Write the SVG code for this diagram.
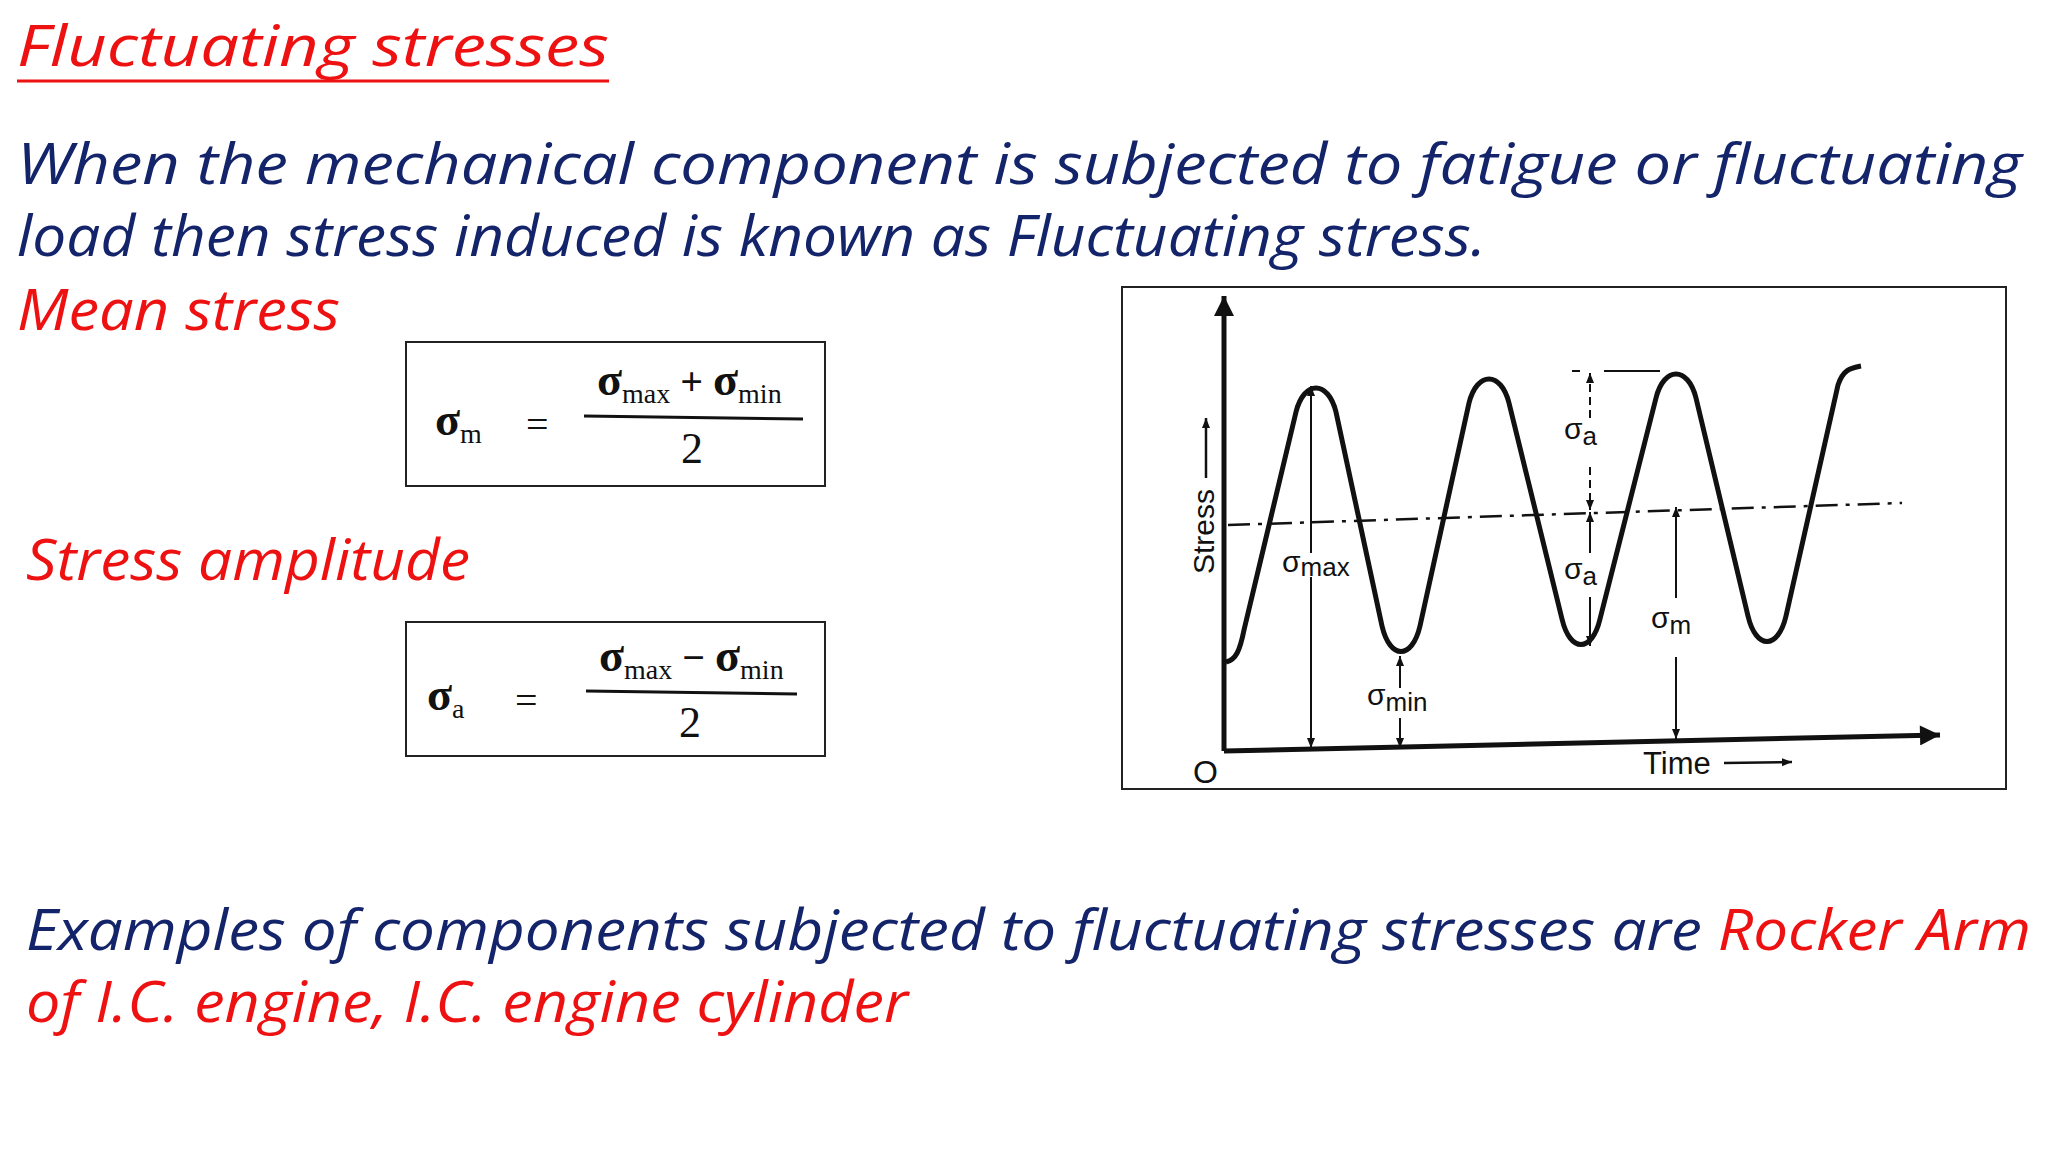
<svg xmlns="http://www.w3.org/2000/svg" width="2048" height="1152" viewBox="0 0 2048 1152">
<defs>
<marker id="ah" viewBox="0 0 10 10" refX="10" refY="5" markerWidth="10" markerHeight="10" markerUnits="userSpaceOnUse" orient="auto-start-reverse"><path d="M0,1 L10,5 L0,9 Z" fill="#111"/></marker>
<marker id="big" viewBox="0 0 10 10" refX="10" refY="5" markerWidth="26" markerHeight="20" markerUnits="userSpaceOnUse" orient="auto"><path d="M0,0 L10,5 L0,10 Z" fill="#111"/></marker>
<style>
.hd{font-family:"Open Sans","Noto Sans",sans-serif;font-style:italic;font-size:57px}
.nv{fill:#14246a}.rd{fill:#ee1111}
.fm{font-family:"Liberation Serif",serif;fill:#111}
.gl{font-family:"Liberation Sans",sans-serif;fill:#111}
.ln{stroke:#111;fill:none}
</style>
</defs>
<rect width="2048" height="1152" fill="#fff"/>
<g id="title">
<text class="hd rd" x="17" y="66" font-size="60" textLength="592" lengthAdjust="spacingAndGlyphs">Fluctuating stresses</text>
<line x1="17" y1="81" x2="609" y2="81" stroke="#ee1111" stroke-width="3"/>
</g>
<g id="definition">
<text class="hd nv" x="17" y="184" textLength="2005" lengthAdjust="spacingAndGlyphs">When the mechanical component is subjected to fatigue or fluctuating</text>
<text class="hd nv" x="17" y="256" textLength="1469" lengthAdjust="spacingAndGlyphs">load then stress induced is known as Fluctuating stress.</text>
</g>
<g id="mean-stress">
<text class="hd rd" x="17" y="330" textLength="323" lengthAdjust="spacingAndGlyphs">Mean stress</text>
<rect x="406" y="342" width="419" height="144" fill="#fff" stroke="#222" stroke-width="2"/>
<text class="fm" x="435" y="435" font-size="46" font-weight="bold">σ<tspan font-size="28" font-weight="normal" dy="8">m</tspan></text>
<text class="fm" x="526" y="438" font-size="40">=</text>
<text class="fm" x="597" y="395" font-size="46" font-weight="bold">σ<tspan font-size="28" font-weight="normal" dy="8">max</tspan><tspan dy="-8" font-size="40"> + </tspan>σ<tspan font-size="28" font-weight="normal" dy="8">min</tspan></text>
<line x1="584" y1="416" x2="803" y2="419" stroke="#111" stroke-width="3"/>
<text class="fm" x="681" y="463" font-size="44">2</text>
</g>
<g id="stress-amplitude">
<text class="hd rd" x="26" y="580" textLength="444" lengthAdjust="spacingAndGlyphs">Stress amplitude</text>
<rect x="406" y="622" width="419" height="134" fill="#fff" stroke="#222" stroke-width="2"/>
<text class="fm" x="427" y="710" font-size="46" font-weight="bold">σ<tspan font-size="28" font-weight="normal" dy="8">a</tspan></text>
<text class="fm" x="515" y="714" font-size="40">=</text>
<text class="fm" x="599" y="671" font-size="46" font-weight="bold">σ<tspan font-size="28" font-weight="normal" dy="8">max</tspan><tspan dy="-8" font-size="40"> − </tspan>σ<tspan font-size="28" font-weight="normal" dy="8">min</tspan></text>
<line x1="586" y1="691" x2="797" y2="694" stroke="#111" stroke-width="3"/>
<text class="fm" x="679" y="737" font-size="44">2</text>
</g>
<g id="graph">
<rect x="1122" y="287" width="884" height="502" fill="#fff" stroke="#222" stroke-width="2"/>
<line class="ln" x1="1224" y1="751" x2="1224" y2="296" stroke-width="5" marker-end="url(#big)"/>
<line class="ln" x1="1224" y1="751" x2="1940" y2="735" stroke-width="5" marker-end="url(#big)"/>
<text class="gl" x="1193" y="783" font-size="32">O</text>
<text class="gl" x="1214" y="574" font-size="30" transform="rotate(-90 1214 574)">Stress</text>
<line class="ln" x1="1206" y1="478" x2="1206" y2="418" stroke-width="2.5" marker-end="url(#ah)"/>
<text class="gl" x="1643" y="774" font-size="31">Time</text>
<line class="ln" x1="1724" y1="763" x2="1792" y2="762" stroke-width="2.5" marker-end="url(#ah)"/>
<path class="ln" stroke-width="5" stroke-linejoin="round" d="M1226,662 C1236,660 1240,650 1244,630 L1296,412 C1304,380 1328,380 1336,412 L1382,626 C1390,660 1412,660 1420,626 L1469,403 C1477,371 1501,371 1509,403 L1562,619 C1570,653 1592,653 1600,619 L1656,398 C1664,366 1688,366 1696,398 L1748,616 C1756,650 1778,650 1786,616 L1838,385 C1843,370 1850,368 1861,366"/>
<line class="ln" x1="1228" y1="525" x2="1902" y2="503" stroke-width="2.5" stroke-dasharray="22,8,4,8"/>
<line class="ln" x1="1572" y1="371" x2="1580" y2="371" stroke-width="2"/>
<line class="ln" x1="1604" y1="371" x2="1660" y2="371" stroke-width="2"/>
</g>
<g id="connectors">
<line class="ln" x1="1311" y1="553" x2="1311" y2="386" stroke-width="2" marker-end="url(#ah)"/>
<line class="ln" x1="1311" y1="577" x2="1311" y2="748" stroke-width="2" marker-end="url(#ah)"/>
<line class="ln" x1="1400" y1="688" x2="1400" y2="656" stroke-width="2" marker-end="url(#ah)"/>
<line class="ln" x1="1400" y1="718" x2="1400" y2="748" stroke-width="2" marker-end="url(#ah)"/>
<line class="ln" x1="1590" y1="418" x2="1590" y2="373" stroke-width="2" stroke-dasharray="8,5" marker-end="url(#ah)"/>
<line class="ln" x1="1590" y1="467" x2="1590" y2="510" stroke-width="2" stroke-dasharray="8,5" marker-end="url(#ah)"/>
<line class="ln" x1="1590" y1="553" x2="1590" y2="512" stroke-width="2" marker-end="url(#ah)"/>
<line class="ln" x1="1590" y1="597" x2="1590" y2="646" stroke-width="2" marker-end="url(#ah)"/>
<line class="ln" x1="1676" y1="598" x2="1676" y2="507" stroke-width="2" marker-end="url(#ah)"/>
<line class="ln" x1="1676" y1="657" x2="1676" y2="739" stroke-width="2" marker-end="url(#ah)"/>
</g>
<g id="graph-labels">
<text class="gl" x="1282" y="572" font-size="30">σ<tspan font-size="26" dy="4">max</tspan></text>
<text class="gl" x="1367" y="705" font-size="30">σ<tspan font-size="26" dy="6">min</tspan></text>
<text class="gl" x="1564" y="439" font-size="30">σ<tspan font-size="26" dy="6">a</tspan></text>
<text class="gl" x="1564" y="579" font-size="30">σ<tspan font-size="26" dy="6">a</tspan></text>
<text class="gl" x="1651" y="628" font-size="30">σ<tspan font-size="26" dy="6">m</tspan></text>
</g>
<g id="examples">
<text class="hd" x="26" y="950" textLength="2005" lengthAdjust="spacingAndGlyphs"><tspan class="nv">Examples of components subjected to fluctuating stresses are </tspan><tspan class="rd">Rocker Arm</tspan></text>
<text class="hd rd" x="26" y="1022" textLength="882" lengthAdjust="spacingAndGlyphs">of I.C. engine, I.C. engine cylinder</text>
</g>
</svg>
